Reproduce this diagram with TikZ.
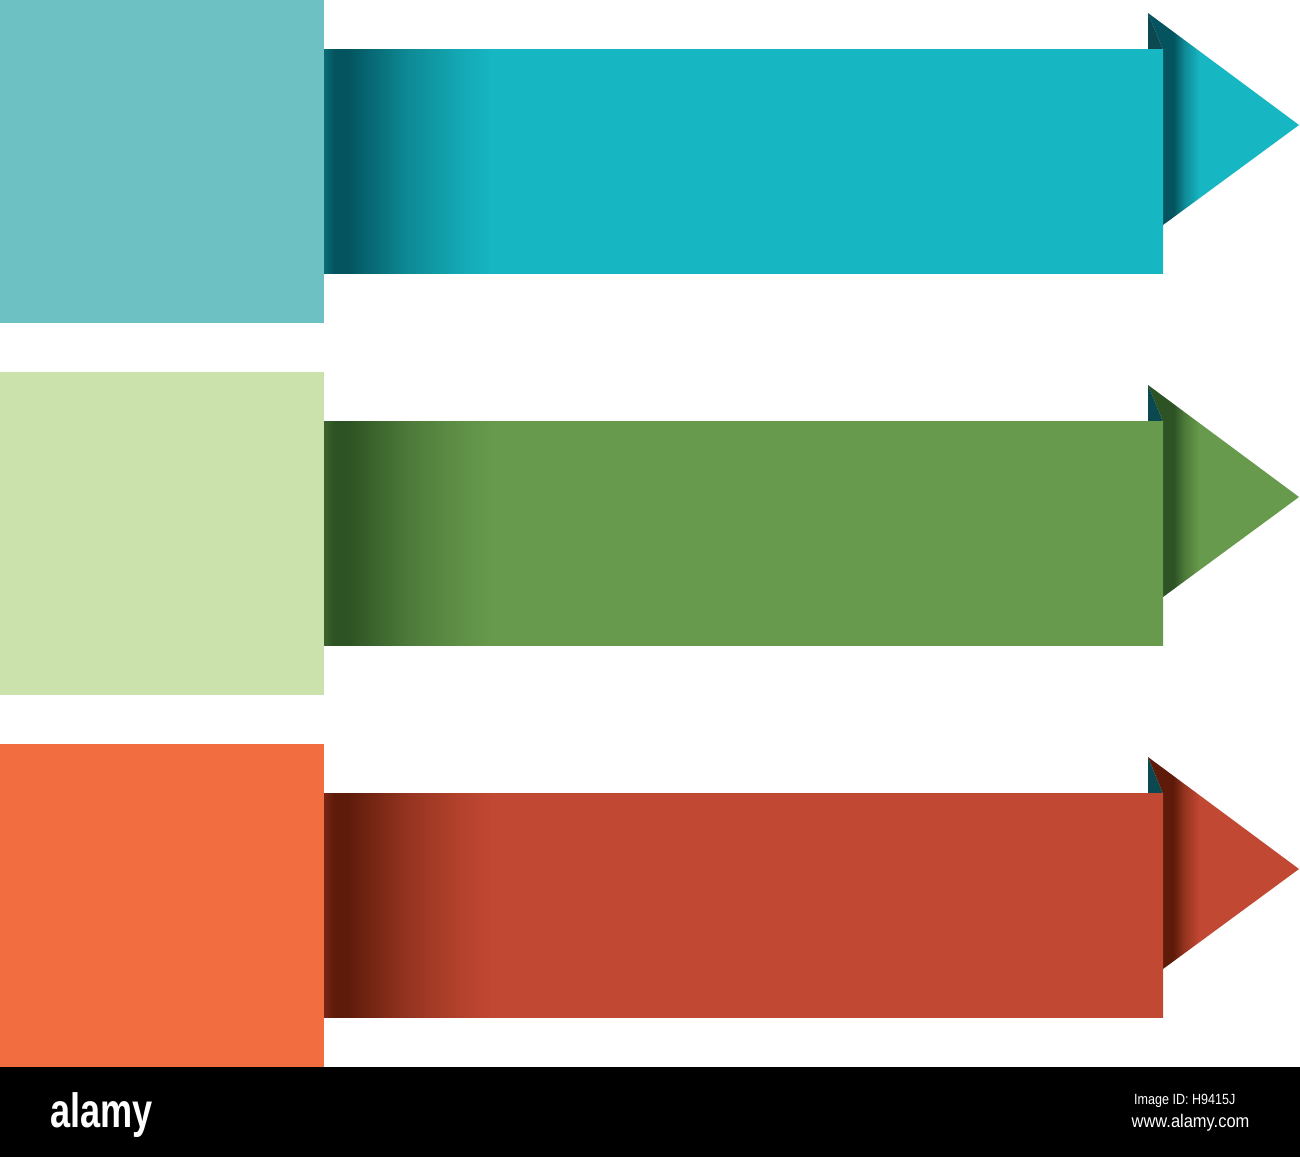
\documentclass[tikz,border=0pt]{standalone}
\usepackage{fontspec}
\setmainfont{Liberation Sans}
\definecolor{sqA}{HTML}{6DC1C3}
\definecolor{bandA}{HTML}{16B6C2}
\definecolor{darkA}{HTML}{03545E}
\definecolor{sqB}{HTML}{CCE2AC}
\definecolor{bandB}{HTML}{679A4C}
\definecolor{darkB}{HTML}{2D5223}
\definecolor{sqC}{HTML}{F26D3F}
\definecolor{bandC}{HTML}{C14832}
\definecolor{darkC}{HTML}{5F1B0A}
\definecolor{foldcol}{HTML}{0B4850}
% #1 suffix, #2 band colour, #3 dark colour
\newcommand\makeshades[3]{%
  \colorlet{tmpedge}{#3!75!#2}%
  \colorlet{tmpmid}{#3!45!#2}%
  \colorlet{tmpmidb}{#3!15!#2}%
  \pgfdeclarehorizontalshading{bandshade#1}{100bp}{%
    color(0bp)=(tmpedge); color(25bp)=(tmpedge); color(25.6bp)=(#3);
    color(26.4bp)=(#3); color(30bp)=(tmpmid); color(33bp)=(tmpmidb);
    color(35bp)=(#2); color(100bp)=(#2)}%
  \pgfdeclarehorizontalshading{headshade#1}{100bp}{%
    color(0bp)=(#3); color(30.5bp)=(#3); color(33.5bp)=(#3);
    color(37bp)=(tmpmid); color(42bp)=(#2); color(100bp)=(#2)}%
}
\makeshades{A}{bandA}{darkA}
\makeshades{B}{bandB}{darkB}
\makeshades{C}{bandC}{darkC}
% #1 y offset, #2 square colour, #3 shade suffix
\newcommand\ribbonrow[3]{%
  \begin{scope}[shift={(0,#1)}]
    \fill[#2] (0,0) rectangle (324,323);
    \shade[shading=headshade#3] (1148,13) -- (1299,125) -- (1163,225) -- (1163,50) -- cycle;
    \fill[foldcol] (1148,13) -- (1163,50) -- (1148,50) -- cycle;
    \shade[shading=bandshade#3] (324,49) rectangle (1163,273);
  \end{scope}}
\begin{document}
\begin{tikzpicture}[x=0.01cm,y=-0.01cm]
  \useasboundingbox (0,0) rectangle (1300,1157);
  \fill[white] (0,0) rectangle (1300,1157);
  \ribbonrow{0}{sqA}{A}
  \ribbonrow{372}{sqB}{B}
  \ribbonrow{744}{sqC}{C}
  \fill[black] (0,1067) rectangle (1300,1157);
  \node[white, font=\bfseries\fontsize{13.7}{14}\selectfont, xscale=0.75, anchor=base west, inner sep=0pt] (logo) at (50,1127) {alamy};
  \node[white, font=\fontsize{4.2}{5}\selectfont, xscale=0.85, anchor=base east, inner sep=0pt] (imgid) at (1236,1104) {Image ID: H9415J};
  \node[white, font=\fontsize{5.2}{6}\selectfont, xscale=0.9, anchor=base east, inner sep=0pt] (www) at (1250,1127) {www.alamy.com};
\end{tikzpicture}
\end{document}
